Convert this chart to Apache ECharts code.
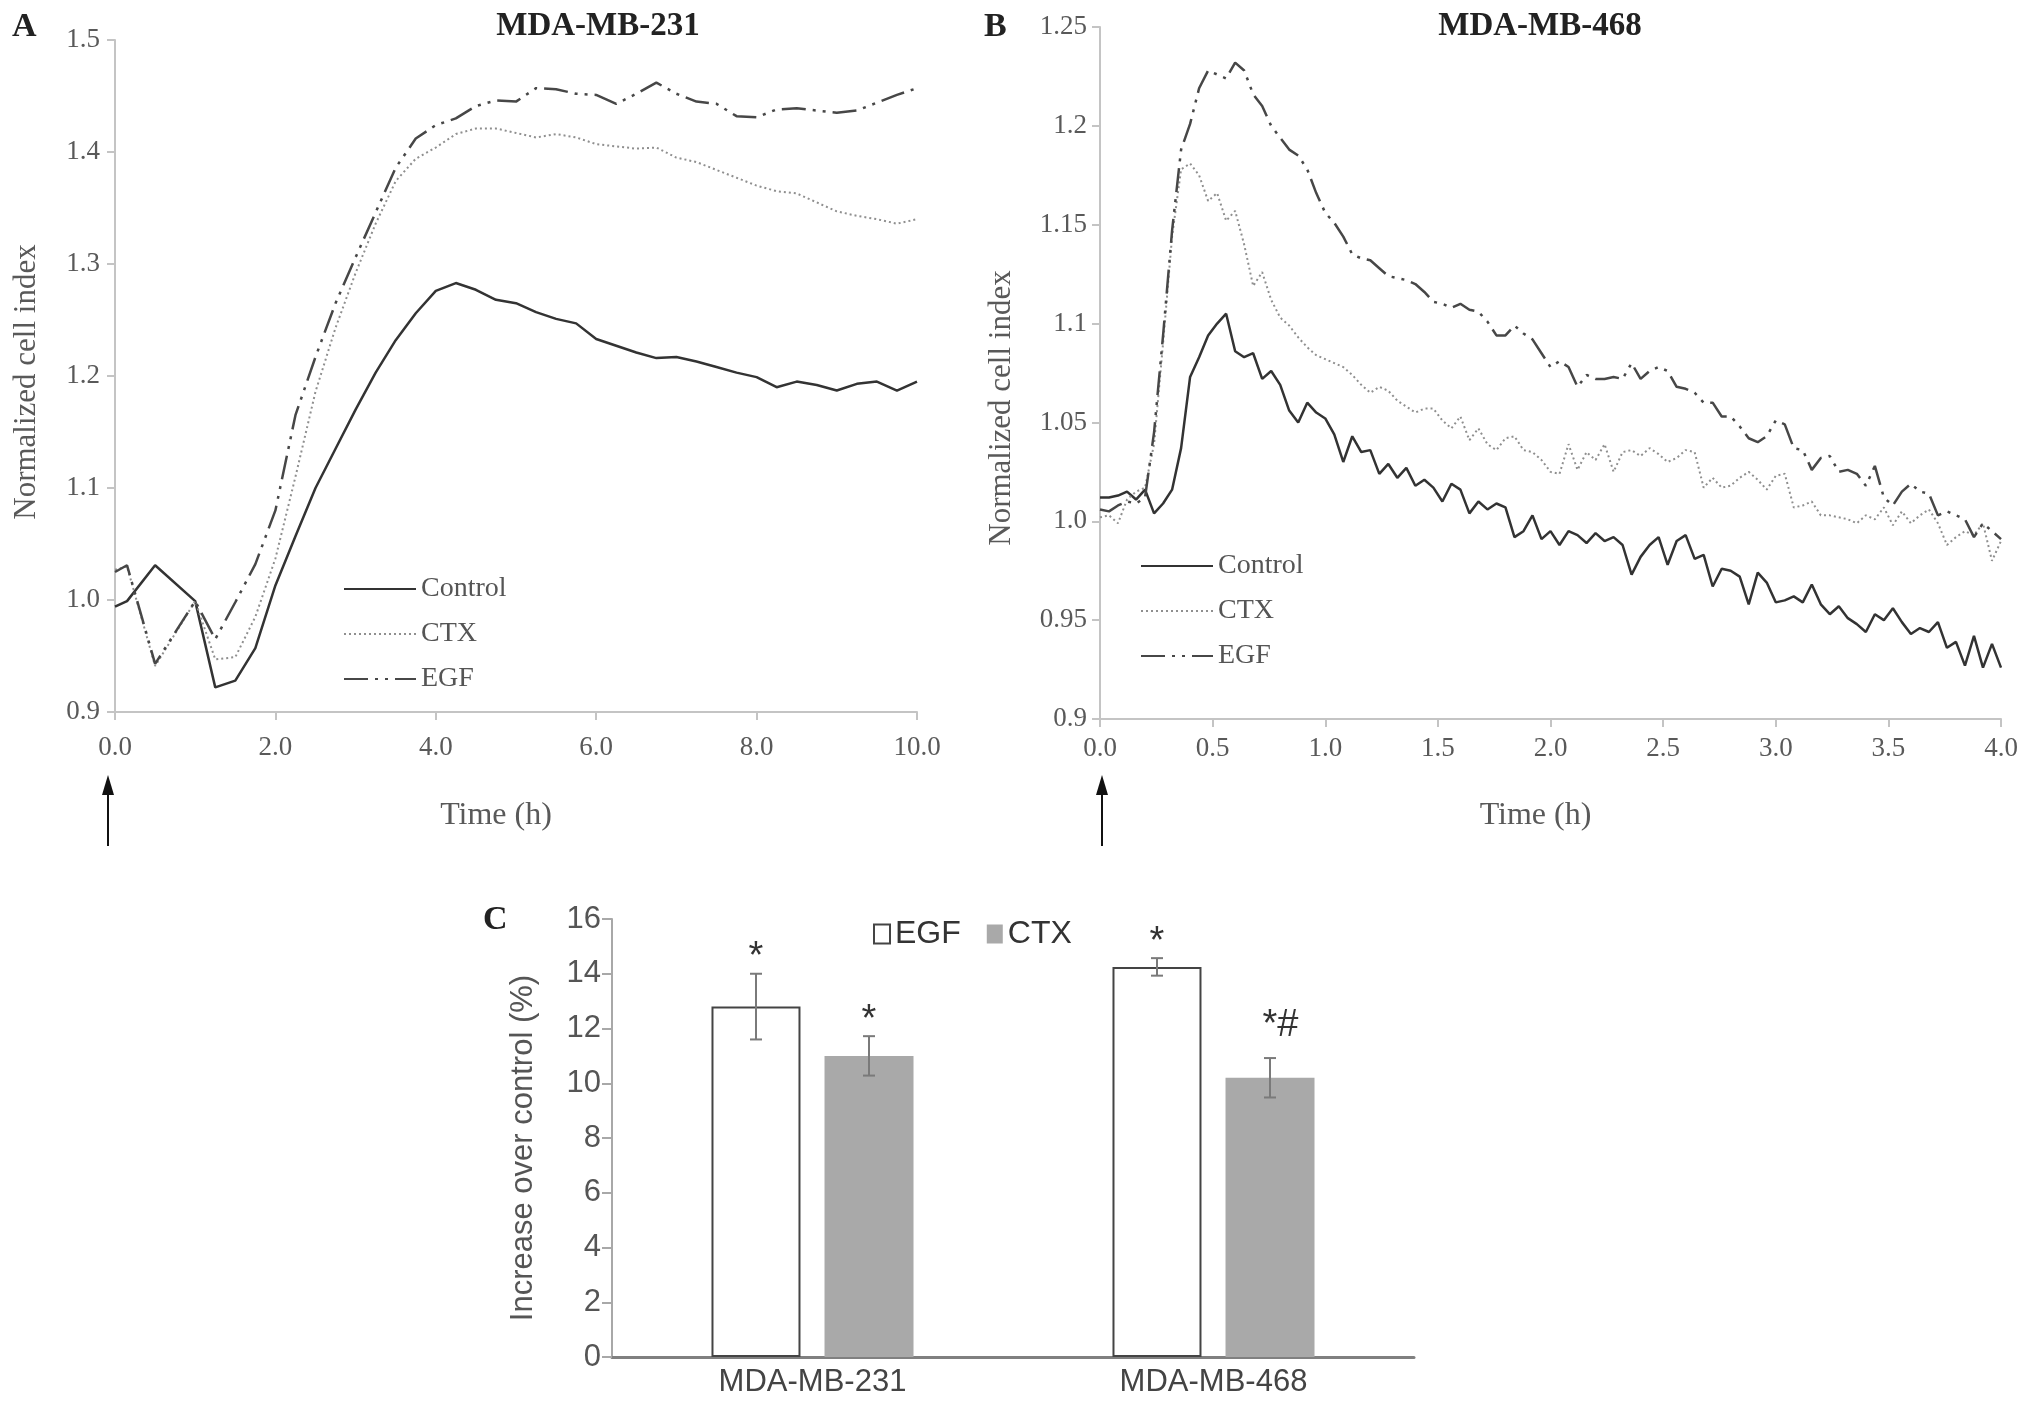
<!DOCTYPE html>
<html>
<head>
<meta charset="utf-8">
<title>Cell index</title>
<script src="https://cdn.jsdelivr.net/npm/echarts@6/dist/echarts.min.js"></script>
<style>
  html, body { margin: 0; padding: 0; background: #fff; }
  #main { width: 2031px; height: 1406px; }
</style>
</head>
<body>
<div id="main"></div>
<script>
// ---- panel A : MDA-MB-231, time (h) ----
var timesA = [0, 0.15, 0.5, 1.0, 1.25, 1.5, 1.75, 2.0, 2.25, 2.5, 2.75, 3.0, 3.25, 3.5, 3.75, 4.0,
  4.25, 4.5, 4.75, 5.0, 5.25, 5.5, 5.75, 6.0, 6.25, 6.5, 6.75, 7.0, 7.25, 7.5, 7.75, 8.0,
  8.25, 8.5, 8.75, 9.0, 9.25, 9.5, 9.75, 10.0];
var controlA = [0.994, 0.999, 1.031, 0.999, 0.922, 0.928, 0.957, 1.013, 1.057, 1.100, 1.135, 1.170, 1.203, 1.232, 1.256, 1.276,
  1.283, 1.277, 1.268, 1.265, 1.257, 1.251, 1.247, 1.233, 1.227, 1.221, 1.216, 1.217, 1.213, 1.208, 1.203, 1.199,
  1.190, 1.195, 1.192, 1.187, 1.193, 1.195, 1.187, 1.195];
var ctxA = [1.027, 1.030, 0.941, 0.999, 0.947, 0.949, 0.985, 1.037, 1.110, 1.186, 1.243, 1.292, 1.336, 1.374, 1.394, 1.404,
  1.416, 1.421, 1.421, 1.417, 1.413, 1.416, 1.413, 1.407, 1.405, 1.403, 1.404, 1.395, 1.391, 1.384, 1.377, 1.370,
  1.365, 1.363, 1.355, 1.347, 1.343, 1.340, 1.336, 1.340];
var egfA = [1.025, 1.031, 0.943, 0.999, 0.965, 0.998, 1.032, 1.080, 1.165, 1.217, 1.265, 1.306, 1.346, 1.386, 1.412, 1.424,
  1.430, 1.441, 1.446, 1.445, 1.457, 1.456, 1.452, 1.451, 1.443, 1.452, 1.462, 1.452, 1.445, 1.443, 1.432, 1.431,
  1.438, 1.439, 1.437, 1.435, 1.437, 1.444, 1.451, 1.457];

// ---- panel B : MDA-MB-468, time (h) ----
var timesB = [0, 0.04, 0.08, 0.12, 0.16, 0.2, 0.24, 0.28, 0.32, 0.36, 0.4, 0.44, 0.48, 0.52, 0.56, 0.6, 0.64, 0.68, 0.72, 0.76,
  0.8, 0.84, 0.88, 0.92, 0.96, 1.0, 1.04, 1.08, 1.12, 1.16, 1.2, 1.24, 1.28, 1.32, 1.36, 1.4, 1.44, 1.48, 1.52, 1.56,
  1.6, 1.64, 1.68, 1.72, 1.76, 1.8, 1.84, 1.88, 1.92, 1.96, 2.0, 2.04, 2.08, 2.12, 2.16, 2.2, 2.24, 2.28, 2.32, 2.36,
  2.4, 2.44, 2.48, 2.52, 2.56, 2.6, 2.64, 2.68, 2.72, 2.76, 2.8, 2.84, 2.88, 2.92, 2.96, 3.0, 3.04, 3.08, 3.12, 3.16,
  3.2, 3.24, 3.28, 3.32, 3.36, 3.4, 3.44, 3.48, 3.52, 3.56, 3.6, 3.64, 3.68, 3.72, 3.76, 3.8, 3.84, 3.88, 3.92, 3.96, 4.0];
var controlB = [1.012, 1.012, 1.013, 1.015, 1.011, 1.016, 1.004, 1.009, 1.016, 1.037, 1.073, 1.083, 1.094, 1.100, 1.105, 1.086, 1.083, 1.085, 1.072, 1.076,
  1.069, 1.056, 1.050, 1.060, 1.055, 1.052, 1.044, 1.030, 1.043, 1.035, 1.036, 1.024, 1.029, 1.022, 1.027, 1.018, 1.021, 1.017, 1.010, 1.019,
  1.016, 1.004, 1.010, 1.006, 1.009, 1.007, 0.992, 0.995, 1.003, 0.991, 0.995, 0.988, 0.995, 0.993, 0.989, 0.994, 0.990, 0.992, 0.988, 0.973,
  0.982, 0.988, 0.992, 0.978, 0.990, 0.993, 0.981, 0.983, 0.967, 0.976, 0.975, 0.972, 0.958, 0.974, 0.969, 0.959, 0.960, 0.962, 0.959, 0.968,
  0.958, 0.953, 0.957, 0.951, 0.948, 0.944, 0.953, 0.950, 0.956, 0.949, 0.943, 0.946, 0.944, 0.949, 0.936, 0.939, 0.927, 0.942, 0.926, 0.938, 0.926];
var ctxB = [1.002, 1.003, 0.999, 1.011, 1.015, 1.017, 1.039, 1.090, 1.144, 1.178, 1.181, 1.175, 1.162, 1.166, 1.152, 1.157, 1.140, 1.119, 1.126, 1.112,
  1.103, 1.099, 1.093, 1.088, 1.084, 1.082, 1.080, 1.078, 1.074, 1.069, 1.065, 1.068, 1.066, 1.061, 1.058, 1.055, 1.057, 1.057, 1.051, 1.047,
  1.053, 1.041, 1.047, 1.039, 1.036, 1.042, 1.043, 1.036, 1.035, 1.031, 1.025, 1.024, 1.039, 1.026, 1.035, 1.031, 1.039, 1.025, 1.035, 1.036,
  1.033, 1.037, 1.034, 1.030, 1.032, 1.036, 1.035, 1.017, 1.022, 1.017, 1.018, 1.022, 1.025, 1.021, 1.016, 1.023, 1.024, 1.007, 1.008, 1.010,
  1.003, 1.003, 1.002, 1.001, 0.999, 1.003, 1.001, 1.007, 0.998, 1.005, 0.999, 1.003, 1.006, 0.999, 0.988, 0.992, 0.995, 0.993, 0.999, 0.980, 0.990];
var egfB = [1.006, 1.005, 1.008, 1.010, 1.009, 1.012, 1.045, 1.094, 1.147, 1.188, 1.201, 1.219, 1.228, 1.226, 1.224, 1.232, 1.228, 1.216, 1.210, 1.200,
  1.194, 1.188, 1.185, 1.178, 1.166, 1.156, 1.151, 1.144, 1.135, 1.133, 1.132, 1.128, 1.124, 1.123, 1.122, 1.120, 1.116, 1.111, 1.110, 1.108,
  1.110, 1.107, 1.106, 1.101, 1.094, 1.094, 1.099, 1.095, 1.092, 1.085, 1.078, 1.081, 1.078, 1.068, 1.074, 1.072, 1.072, 1.073, 1.072, 1.080,
  1.072, 1.076, 1.078, 1.076, 1.068, 1.067, 1.065, 1.060, 1.060, 1.053, 1.053, 1.048, 1.042, 1.040, 1.043, 1.051, 1.049, 1.037, 1.036, 1.026,
  1.032, 1.033, 1.025, 1.026, 1.024, 1.018, 1.028, 1.012, 1.008, 1.015, 1.019, 1.015, 1.014, 1.003, 1.005, 1.003, 1.001, 0.992, 0.999, 0.995, 0.991];

// ---- panel C : increase over control (%) ----
var cellLines = ['MDA-MB-231', 'MDA-MB-468'];
var egfMean = [12.8, 14.25];
var egfErr = [1.2, 0.32];
var egfMark = ['*', '*'];
var ctxMean = [11.0, 10.2];
var ctxErr = [0.72, 0.72];
var ctxMark = ['*', '*#'];

var SERIF = 'Liberation Serif';
var SANS = 'Liberation Sans';
var GREY = '#595959';

function pairs(xs, ys) {
  return xs.map(function (x, i) { return [x, ys[i]]; });
}

var lineStyles = {
  Control: { color: '#333333', width: 2.5, type: 'solid' },
  CTX: { color: '#8f8f8f', width: 2, type: [2, 3] },
  EGF: { color: '#474747', width: 2.5, type: [24, 7, 3, 7, 3, 7] }
};

function lineSeries(name, data, idx) {
  return {
    name: name, type: 'line', xAxisIndex: idx, yAxisIndex: idx,
    data: data, symbol: 'none', smooth: false, animation: false,
    lineStyle: lineStyles[name], itemStyle: { color: lineStyles[name].color }
  };
}

function timeAxis(idx, max, interval, nameGap, namePad) {
  return {
    type: 'value', gridIndex: idx, min: 0, max: max, interval: interval,
    name: 'Time (h)', nameLocation: 'middle', nameGap: nameGap,
    nameTextStyle: { fontFamily: SERIF, fontSize: 32, color: GREY, padding: [0, namePad, 0, 0] },
    axisLine: { lineStyle: { color: '#c4c4c4', width: 2 } },
    axisTick: { show: true, inside: false, length: 8, lineStyle: { color: '#c4c4c4', width: 2 } },
    axisLabel: { fontFamily: SERIF, fontSize: 27, color: GREY, margin: idx === 0 ? 22 : 16,
      formatter: function (v) { return v.toFixed(1); } },
    splitLine: { show: false }
  };
}

function indexAxis(idx, min, max, interval, nameGap, namePad, margin) {
  return {
    type: 'value', gridIndex: idx, min: min, max: max, interval: interval,
    name: 'Normalized cell index', nameLocation: 'middle', nameGap: nameGap,
    nameTextStyle: { fontFamily: SERIF, fontSize: 31, color: GREY, padding: [0, namePad, 0, 0] },
    axisLine: { show: true, lineStyle: { color: '#c4c4c4', width: 2 } },
    axisTick: { show: true, inside: false, length: 8, lineStyle: { color: '#c4c4c4', width: 2 } },
    axisLabel: { fontFamily: SERIF, fontSize: 27, color: GREY, margin: margin,
      formatter: function (v) {
        var r = Math.round(v * 100) / 100;
        return (Math.abs(r * 10 - Math.round(r * 10)) < 1e-6) ? r.toFixed(1) : r.toFixed(2);
      } },
    splitLine: { show: false }
  };
}

// error bars with significance marks for panel C
function errorSeries(name, means, errs, marks, side) {
  return {
    name: name + ' err', type: 'custom', xAxisIndex: 2, yAxisIndex: 2, animation: false,
    silent: true, z: 5,
    data: means.map(function (m, i) { return [i, m, errs[i]]; }),
    renderItem: function (params, api) {
      var i = api.value(0), m = api.value(1), e = api.value(2);
      var hi = api.coord([i, m + e]);
      var lo = api.coord([i, m - e]);
      var cx = hi[0] + side * 56.5;
      var cap = 6;
      var mark = marks[params.dataIndex];
      var ty = mark.indexOf('#') >= 0 ? hi[1] - 14 : hi[1] + 3;
      return {
        type: 'group',
        children: [
          { type: 'line', shape: { x1: cx, y1: hi[1], x2: cx, y2: lo[1] }, style: { stroke: '#7a7a7a', lineWidth: 2 } },
          { type: 'line', shape: { x1: cx - cap, y1: hi[1], x2: cx + cap, y2: hi[1] }, style: { stroke: '#7a7a7a', lineWidth: 2 } },
          { type: 'line', shape: { x1: cx - cap, y1: lo[1], x2: cx + cap, y2: lo[1] }, style: { stroke: '#7a7a7a', lineWidth: 2 } },
          { type: 'text', x: cx - 7.5, y: ty,
            style: { text: mark, fill: '#333', font: '38px ' + SANS, textAlign: 'left', textVerticalAlign: 'bottom' } }
        ]
      };
    }
  };
}

function arrow(x) {
  return [
    { type: 'line', shape: { x1: x, y1: 846, x2: x, y2: 790 }, style: { stroke: '#111', lineWidth: 2 } },
    { type: 'polygon', shape: { points: [[x - 6, 795], [x, 775], [x + 6, 795]] }, style: { fill: '#111' } }
  ];
}

var chart = echarts.init(document.getElementById('main'), null, { renderer: 'canvas' });

var lineLegend = function (left, top) {
  return {
    data: ['Control', 'CTX', 'EGF'], orient: 'vertical', left: left, top: top,
    itemWidth: 72, itemHeight: 14, itemGap: 15, padding: 0, selectedMode: false,
    itemStyle: { opacity: 0, borderWidth: 0 },
    textStyle: { fontFamily: SERIF, fontSize: 28, color: '#555', lineHeight: 30 }
  };
};

var option = {
  backgroundColor: '#ffffff',
  animation: false,
  textStyle: { fontFamily: SERIF },
  title: [
    { text: 'A', left: 12, top: 10, padding: 0, textStyle: { fontFamily: SERIF, fontWeight: 'bold', fontSize: 34, color: '#222' } },
    { text: 'MDA-MB-231', left: 598, top: 10, padding: 0, textAlign: 'center', textStyle: { fontFamily: SERIF, fontWeight: 'bold', fontSize: 33, color: '#222' } },
    { text: 'B', left: 984, top: 10, padding: 0, textStyle: { fontFamily: SERIF, fontWeight: 'bold', fontSize: 34, color: '#222' } },
    { text: 'MDA-MB-468', left: 1540, top: 10, padding: 0, textAlign: 'center', textStyle: { fontFamily: SERIF, fontWeight: 'bold', fontSize: 33, color: '#222' } },
    { text: 'C', left: 483, top: 903, padding: 0, textStyle: { fontFamily: SERIF, fontWeight: 'bold', fontSize: 34, color: '#222' } }
  ],
  legend: [
    lineLegend(343, 574),
    lineLegend(1140, 551),
    {
      data: [
        { name: 'EGF', icon: 'rect', itemStyle: { color: '#ffffff', borderColor: '#444', borderWidth: 2, opacity: 1 } },
        { name: 'CTX', icon: 'rect', itemStyle: { color: '#a9a9a9', borderWidth: 0, opacity: 1 } }
      ],
      orient: 'horizontal', left: 873, top: 918, itemWidth: 16, itemHeight: 19, itemGap: 26, padding: 0,
      selectedMode: false,
      textStyle: { fontFamily: SANS, fontSize: 32, color: '#333' }
    }
  ],
  grid: [
    { left: 115, top: 40, width: 802, height: 672 },
    { left: 1100, top: 27, width: 901, height: 692 },
    { left: 612, top: 919, width: 802, height: 438 }
  ],
  xAxis: [
    timeAxis(0, 10, 2, 88, 40),
    timeAxis(1, 4, 0.5, 81, 30),
    {
      type: 'category', gridIndex: 2, data: cellLines,
      axisLine: { lineStyle: { color: '#808080', width: 3 } },
      axisTick: { show: false },
      axisLabel: { fontFamily: SANS, fontSize: 31, color: '#444', margin: 10 },
      splitLine: { show: false }
    }
  ],
  yAxis: [
    indexAxis(0, 0.9, 1.5, 0.1, 73, 12, 15),
    indexAxis(1, 0.9, 1.25, 0.05, 83, 70, 13),
    {
      type: 'value', gridIndex: 2, min: 0, max: 16, interval: 2,
      name: 'Increase over control (%)', nameLocation: 'middle', nameGap: 73,
      nameTextStyle: { fontFamily: SANS, fontSize: 31, color: '#555', padding: [0, 20, 0, 0] },
      axisLine: { show: true, lineStyle: { color: '#a8a8a8', width: 2 } },
      axisTick: { show: true, inside: false, length: 10, lineStyle: { color: '#a8a8a8', width: 2 } },
      axisLabel: { fontFamily: SANS, fontSize: 31, color: '#555', margin: 11 },
      splitLine: { show: false }
    }
  ],
  series: [
    lineSeries('Control', pairs(timesA, controlA), 0),
    lineSeries('CTX', pairs(timesA, ctxA), 0),
    lineSeries('EGF', pairs(timesA, egfA), 0),
    lineSeries('Control', pairs(timesB, controlB), 1),
    lineSeries('CTX', pairs(timesB, ctxB), 1),
    lineSeries('EGF', pairs(timesB, egfB), 1),
    {
      name: 'EGF', type: 'bar', xAxisIndex: 2, yAxisIndex: 2, data: egfMean,
      barWidth: 89, barGap: '27%',
      itemStyle: { color: '#ffffff', borderColor: '#444', borderWidth: 2 }
    },
    {
      name: 'CTX', type: 'bar', xAxisIndex: 2, yAxisIndex: 2, data: ctxMean,
      barWidth: 89, barGap: '27%',
      itemStyle: { color: '#a9a9a9' }
    },
    errorSeries('EGF', egfMean, egfErr, egfMark, -1),
    errorSeries('CTX', ctxMean, ctxErr, ctxMark, 1)
  ],
  graphic: arrow(108).concat(arrow(1102))
};

chart.setOption(option);
</script>
</body>
</html>
